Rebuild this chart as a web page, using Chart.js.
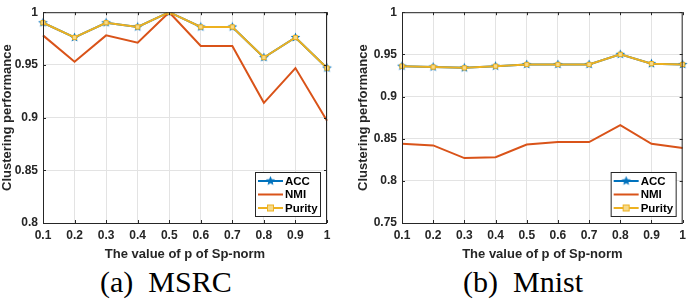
<!DOCTYPE html>
<html>
<head>
<meta charset="utf-8" />
<title>Clustering performance vs p</title>
<script src="https://cdn.jsdelivr.net/npm/chart.js@4.4.0/dist/chart.umd.min.js"></script>
<style>
body { margin: 0; background: #fff; width: 691px; height: 303px; overflow: hidden; position: relative; }
.panel { position: absolute; top: 0; }
.caption { position: absolute; font-family: "Liberation Serif", "Times New Roman", serif; font-size: 30px; color: #000; white-space: nowrap; line-height: 1; }
</style>
</head>
<body>
<div class="panel" style="left:0"><canvas id="msrc" width="345" height="262"></canvas></div>
<div class="panel" style="left:345px"><canvas id="mnist" width="346" height="262"></canvas></div>
<div class="caption" style="left:100px;top:267px">(a)&nbsp; MSRC</div>
<div class="caption" style="left:463px;top:267px">(b)&nbsp; Mnist</div>
<script>
// p values on the x axis
const pValues = ['0.1', '0.2', '0.3', '0.4', '0.5', '0.6', '0.7', '0.8', '0.9', '1'];

// MSRC
const msrcAcc    = [0.990, 0.976, 0.990, 0.986, 1.000, 0.986, 0.986, 0.957, 0.976, 0.947];
const msrcNmi    = [0.978, 0.953, 0.978, 0.971, 1.000, 0.968, 0.968, 0.914, 0.947, 0.897];
const msrcPurity = [0.990, 0.976, 0.990, 0.986, 1.000, 0.986, 0.986, 0.957, 0.976, 0.947];

// Mnist
const mnistAcc    = [0.936, 0.935, 0.934, 0.936, 0.938, 0.938, 0.938, 0.950, 0.939, 0.938];
const mnistNmi    = [0.844, 0.842, 0.827, 0.828, 0.843, 0.846, 0.846, 0.866, 0.844, 0.839];
const mnistPurity = [0.936, 0.935, 0.934, 0.936, 0.938, 0.938, 0.938, 0.950, 0.939, 0.938];

const BLUE = '#0072BD', RED = '#D95319', GOLD = '#EDB120';
const TXT = '#262626', GRID = '#e3e3e3';
const FONT = '"Liberation Sans", Arial, sans-serif';

// filled star marker for ACC
function makeStar(size, color) {
    const c = document.createElement('canvas');
    c.width = size; c.height = size;
    const g = c.getContext('2d');
    const r = size / 2, ri = r * 0.42;
    g.beginPath();
    for (let i = 0; i < 10; i++) {
        const rr = i % 2 ? ri : r - 0.5;
        const a = -Math.PI / 2 + i * Math.PI / 5;
        g.lineTo(r + rr * Math.cos(a), r + rr * Math.sin(a));
    }
    g.closePath();
    g.fillStyle = color;
    g.fill();
    return c;
}
const starImg = makeStar(11, BLUE);

// box around the axes with inward ticks
const boxPlugin = {
    id: 'box',
    afterDatasetsDraw(chart) {
        const { ctx, chartArea: a, scales } = chart;
        ctx.save();
        ctx.strokeStyle = TXT;
        ctx.lineWidth = 1;
        ctx.strokeRect(a.left + 0.5, a.top + 0.5, a.right - a.left - 1, a.bottom - a.top);
        ctx.beginPath();
        scales.x.ticks.forEach((t, i) => {
            const x = Math.round(scales.x.getPixelForTick(i)) + 0.5;
            ctx.moveTo(x, a.bottom); ctx.lineTo(x, a.bottom - 3);
            ctx.moveTo(x, a.top); ctx.lineTo(x, a.top + 3);
        });
        scales.y.ticks.forEach((t, i) => {
            const y = Math.round(scales.y.getPixelForTick(i)) + 0.5;
            ctx.moveTo(a.left, y); ctx.lineTo(a.left + 3, y);
            ctx.moveTo(a.right, y); ctx.lineTo(a.right - 3, y);
        });
        ctx.stroke();
        ctx.restore();
    }
};

// legend box inside the lower right corner
const legendPlugin = {
    id: 'insideLegend',
    afterDraw(chart) {
        const { ctx, chartArea: a } = chart;
        const w = 65, h = 44;
        const x = a.right - 7 - w, y = a.bottom - 7 - h;
        ctx.save();
        ctx.fillStyle = '#fff';
        ctx.fillRect(x, y, w, h);
        ctx.strokeStyle = TXT;
        ctx.lineWidth = 1;
        ctx.strokeRect(x + 0.5, y + 0.5, w, h);
        chart.data.datasets.forEach((ds, i) => {
            const cy = y + 9 + i * 13.5;
            ctx.strokeStyle = ds.borderColor;
            ctx.lineWidth = 2;
            ctx.beginPath();
            ctx.moveTo(x + 3, cy); ctx.lineTo(x + 28, cy);
            ctx.stroke();
            if (ds.label === 'ACC') {
                ctx.drawImage(starImg, x + 15.5 - 5.5, cy - 5.5);
            } else if (ds.label === 'Purity') {
                ctx.fillStyle = '#f6d98a';
                ctx.fillRect(x + 12.5, cy - 3, 6, 6);
                ctx.lineWidth = 1;
                ctx.strokeRect(x + 12.5, cy - 3, 6, 6);
            }
            ctx.fillStyle = '#000';
            ctx.font = 'bold 11.5px ' + FONT;
            ctx.textBaseline = 'middle';
            ctx.fillText(ds.label, x + 30, cy + 0.5);
        });
        ctx.restore();
    }
};

function makeChart(id, acc, nmi, purity, yMin, leftWidth, titlePad, rightPad) {
    const tickFont = { family: FONT, size: 12, weight: 'bold' };
    const titleFont = { family: FONT, size: 13, weight: 'bold' };
    new Chart(document.getElementById(id), {
        type: 'line',
        data: {
            labels: pValues,
            datasets: [
                { label: 'ACC', data: acc, borderColor: BLUE, backgroundColor: BLUE,
                  pointStyle: starImg, borderWidth: 2, order: 2 },
                { label: 'NMI', data: nmi, borderColor: RED, backgroundColor: RED,
                  pointRadius: 0, borderWidth: 2, order: 1 },
                { label: 'Purity', data: purity, borderColor: GOLD, backgroundColor: '#f6d98a',
                  pointStyle: 'rect', pointRadius: 3, pointBorderWidth: 1, borderWidth: 2, order: 0 }
            ]
        },
        options: {
            responsive: false,
            animation: false,
            layout: { padding: { top: 5, right: rightPad, left: 0, bottom: 0 } },
            elements: { line: { tension: 0 } },
            plugins: { legend: { display: false }, tooltip: { enabled: false } },
            scales: {
                x: {
                    type: 'category',
                    offset: false,
                    grid: { color: GRID, drawTicks: false },
                    border: { display: false },
                    ticks: { font: tickFont, color: TXT, padding: 5, maxRotation: 0, autoSkip: false },
                    title: { display: true, text: 'The value of p of Sp-norm', font: titleFont, color: TXT, padding: { top: 0, bottom: 0 } },
                    afterFit: s => { s.height = 39; }
                },
                y: {
                    min: yMin,
                    max: 1,
                    grid: { color: GRID, drawTicks: false },
                    border: { display: false },
                    ticks: { stepSize: 0.05, font: tickFont, color: TXT, padding: 5,
                             callback: v => String(+v.toFixed(2)) },
                    title: { display: true, text: 'Clustering performance', font: titleFont, color: TXT, padding: { top: titlePad, bottom: 0 } },
                    afterFit: s => { s.width = leftWidth; }
                }
            }
        },
        plugins: [boxPlugin, legendPlugin]
    });
}

makeChart('msrc', msrcAcc, msrcNmi, msrcPurity, 0.8, 43, 0, 18);
makeChart('mnist', mnistAcc, mnistNmi, mnistPurity, 0.75, 57, 11, 6);
</script>
</body>
</html>
